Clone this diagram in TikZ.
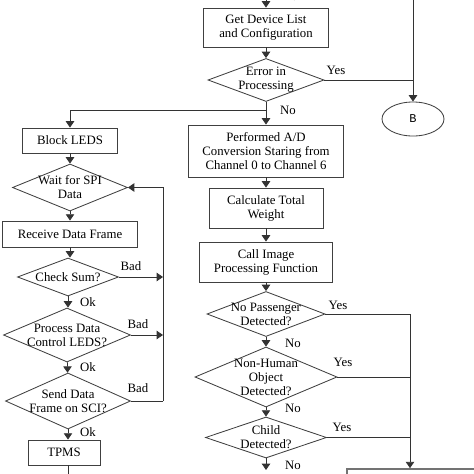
\documentclass[tikz,border=0pt]{standalone}
\usepackage{fontspec}
\setmainfont{Liberation Serif}
\newfontfamily\lettrefont{Liberation Mono}
\usetikzlibrary{shapes.geometric,arrows.meta}

\begin{document}
\begin{tikzpicture}[
  x=0.025cm, y=-0.025cm,
  every node/.style={font=\fontsize{9.1}{10}\selectfont, align=center},
  every label/.style={font=\fontsize{9.1}{10}\selectfont, align=center},
  proc/.style={rectangle, draw=black!75, line width=0.6pt, inner sep=1pt},
  decide/.style={diamond, draw=black!75, line width=0.6pt, inner sep=0pt},
  term/.style={ellipse, draw=black!75, line width=0.6pt, inner sep=0pt},
  seta/.style={-{Triangle[width=6pt,length=4.5pt]}, line width=0.6pt, draw=black!80},
  linha/.style={line width=0.6pt, draw=black!80}
]
\useasboundingbox (0,0) rectangle (474,474);

% Coluna principal: leitura dos sensores
\coordinate (topin) at (266,-8);
\node at (290,-4) {No};
\node[proc, minimum width=3.125cm, minimum height=0.975cm] (dev) at (266,27.5) {Get Device List\\and Configuration};
\node[decide, minimum width=2.9cm, minimum height=1.075cm, label=center:{Error in\\Processing}] (err) at (266,80) {};
\node at (336,70) {Yes};
\coordinate (bin) at (413,-8);
\coordinate (bj) at (413,80);
\node[term, minimum width=1.55cm, minimum height=0.85cm, font=\lettrefont\fontsize{8.5}{9}\selectfont] (B) at (413,119) {B};
\node at (288,110) {No};
\coordinate (br) at (266,110);
\node[proc, minimum width=3.875cm, minimum height=1.3cm] (ad) at (266,151) {Performed A/D\\Conversion Staring from\\Channel 0 to Channel 6};
\node[proc, minimum width=2.85cm, minimum height=1.0cm] (wgt) at (266,208) {Calculate Total\\Weight};
\node[proc, minimum width=3.325cm, minimum height=1.0cm] (img) at (266,262) {Call Image\\Processing Function};
\node[decide, minimum width=2.95cm, minimum height=1.125cm, label=center:{No Passenger\\Detected?}] (nop) at (266,314) {};
\node at (338,305) {Yes};
\node at (293,343) {No};
\node[decide, minimum width=3.55cm, minimum height=1.5cm, label=center:{Non-Human\\Object\\Detected?}] (nonh) at (266,377) {};
\node at (343,362) {Yes};
\node at (293,408) {No};
\node[decide, minimum width=3.025cm, minimum height=1.025cm, label=center:{Child\\Detected?}] (child) at (266,437.5) {};
\node at (342,427) {Yes};
\node at (293,465) {No};
\coordinate (chout) at (266,470);
\coordinate (rj) at (410,314);
\node[proc, draw=black!55, line width=1.2pt, minimum width=3.5cm, minimum height=0.75cm] (act) at (417,484) {};

% Coluna esquerda: comunicação SPI / SCI
\node[proc, minimum width=2.375cm, minimum height=0.625cm] (leds) at (70,140.5) {Block LEDS};
\node[decide, minimum width=2.875cm, minimum height=1.175cm, label=center:{Wait for SPI\\Data}] (spi) at (70,187.5) {};
\node[proc, minimum width=3.375cm, minimum height=0.65cm] (recv) at (70,234) {Receive Data Frame};
\node[decide, minimum width=2.525cm, minimum height=0.95cm, label=center:{Check Sum?}] (chk) at (68,277) {};
\node at (131,266) {Bad};
\node at (88,302) {Ok};
\node[decide, minimum width=3.175cm, minimum height=1.35cm, label=center:{Process Data\\Control LEDS?}] (pdc) at (67,335) {};
\node at (138,324) {Bad};
\node at (88,367) {Ok};
\node[decide, minimum width=3.125cm, minimum height=1.4cm, label=center:{Send Data\\Frame on SCI?}] (send) at (68,401) {};
\node at (138,388) {Bad};
\node at (88,432) {Ok};
\node[proc, minimum width=1.8cm, minimum height=0.625cm] (tpms) at (64,452.5) {TPMS};
\coordinate (tpout) at (68,480);
\coordinate (loopb) at (163,401);
\coordinate (loopt) at (163,187.5);

% Ligações
\draw[seta] (topin) -- (dev);
\draw[seta] (dev) -- (err);
\draw[linha] (err.east) -- (bj);
\draw[seta] (bin) -- (B);
\draw[linha] (err.south) -- (br);
\draw[seta] (br) -| (leds.north);
\draw[seta] (br) -- (ad);
\draw[seta] (ad) -- (wgt);
\draw[seta] (wgt) -- (img);
\draw[seta] (img) -- (nop);
\draw[seta] (nop) -- (nonh);
\draw[seta] (nonh) -- (child);
\draw[seta] (child) -- (chout);
\draw[linha] (nop.east) -- (rj);
\draw[linha] (nonh.east) -- (nonh.east -| rj);
\draw[linha] (child.east) -- (child.east -| rj);
\draw[seta] (rj) -- (rj |- act.north);
\draw[seta] (leds) -- (spi);
\draw[seta] (spi) -- (recv);
\draw[seta] (recv.south) -- (recv.south |- chk.north);
\draw[seta] (chk.south) -- (chk.south |- pdc.north);
\draw[seta] (pdc) -- (send);
\draw[seta] (send.south) -- (send.south |- tpms.north);
\draw[linha] (tpms.south -| tpout) -- (tpout);
\draw[seta] (chk.east) -- (chk.east -| loopb);
\draw[seta] (pdc.east) -- (pdc.east -| loopb);
\draw[linha] (send.east) -- (loopb);
\draw[seta] (loopb) -- (loopt) -- (spi.east);
\end{tikzpicture}
\end{document}
